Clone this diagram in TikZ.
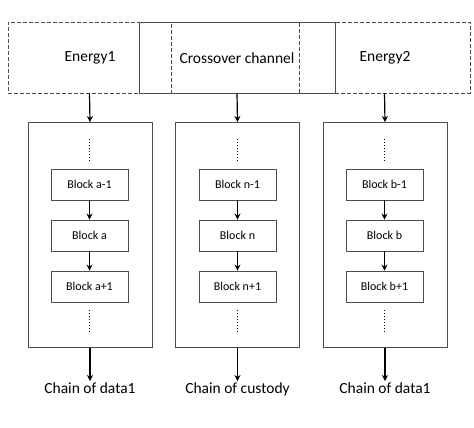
\documentclass[tikz,border=0pt]{standalone}
\usepackage{fontspec}
\setmainfont{Carlito}
\usetikzlibrary{arrows.meta}
\begin{document}
\begin{tikzpicture}[x=1pt,y=-1pt,
  boxline/.style={draw=black!70,line width=0.9pt},
  dashline/.style={dash pattern=on 4pt off 2pt},
  topbox/.style={boxline,minimum height=71pt,inner sep=0pt,font=\fontsize{15.5}{18}\selectfont},
  chainbox/.style={boxline,minimum width=124pt,minimum height=225pt,inner sep=0pt},
  blockbox/.style={boxline,minimum width=77pt,minimum height=31pt,inner sep=0pt,font=\fontsize{12}{14}\selectfont},
  lbl/.style={inner sep=1pt,anchor=base,font=\fontsize{15.5}{18}\selectfont},
  arr/.style={draw=black,line width=1.2pt,-{Stealth[length=6pt,width=6pt]}},
  dots/.style={draw=black,line width=1.6pt,dash pattern=on 1.4pt off 1.6pt},
  every node/.style={text=black}]
\useasboundingbox (0,0) rectangle (474,428);
% top row
\node[topbox,dashline,minimum width=163pt] (e1) at (89.5,57.5) {};
\node[topbox,dashline,minimum width=171pt] (e2) at (384.5,57.5) {};
\node[topbox,minimum width=196pt] (cc) at (237,57.5) {};
\node[font=\fontsize{15.5}{18}\selectfont] (e1t) at (90,58) {Energy1};
\node[font=\fontsize{15.5}{18}\selectfont] (cct) at (237,58) {Crossover channel};
\node[font=\fontsize{15.5}{18}\selectfont] (e2t) at (385,58) {Energy2};
% chain boxes
\node[chainbox] (c1) at (90,235) {};
\node[chainbox] (c2) at (237.5,235) {};
\node[chainbox] (c3) at (385,235) {};
% blocks
\node[blockbox] (a1) at (89.5,184.5) {Block a-1};
\node[blockbox] (a2) at (89.5,235.5) {Block a};
\node[blockbox] (a3) at (89.5,286.5) {Block a+1};
\node[blockbox] (n1) at (237.5,184.5) {Block n-1};
\node[blockbox] (n2) at (237.5,235.5) {Block n};
\node[blockbox] (n3) at (237.5,286.5) {Block n+1};
\node[blockbox] (b1) at (384.5,184.5) {Block b-1};
\node[blockbox] (b2) at (384.5,235.5) {Block b};
\node[blockbox] (b3) at (384.5,286.5) {Block b+1};
% dots
\foreach \x/\n in {89.5/a,237.5/n,384.5/b}{
  \coordinate (\n t1) at (\x,139);
  \coordinate (\n t2) at (\x,162);
  \coordinate (\n u1) at (\x,310);
  \coordinate (\n u2) at (\x,332);
  \draw[dots] (\n t1) -- (\n t2);
  \draw[dots] (\n u1) -- (\n u2);
}
% labels
\node[lbl] (l1) at (90,393) {Chain of data1};
\node[lbl] (l2) at (237.5,393) {Chain of custody};
\node[lbl] (l3) at (385,393) {Chain of data1};
% arrows
\draw[arr] (e1.south) -- (c1.north);
\draw[arr] (cc.south) -- (c2.north);
\draw[arr] (e2.south) -- (c3.north);
\draw[arr] (a1) -- (a2);
\draw[arr] (a2) -- (a3);
\draw[arr] (n1) -- (n2);
\draw[arr] (n2) -- (n3);
\draw[arr] (b1) -- (b2);
\draw[arr] (b2) -- (b3);
\draw[arr] (c1.south) -- (l1.north);
\draw[arr] (c2.south) -- (l2.north);
\draw[arr] (c3.south) -- (l3.north);
\end{tikzpicture}
\end{document}
